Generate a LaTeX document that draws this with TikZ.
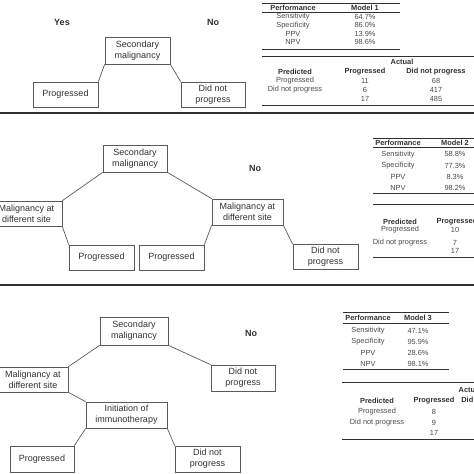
\documentclass[tikz,border=0pt]{standalone}
\usepackage{fontspec}
\setmainfont{Liberation Sans}
\usepackage{tikz}
\definecolor{inkgray}{HTML}{303030}
\definecolor{boxgray}{HTML}{5A5A5A}
\definecolor{cellgray}{HTML}{4A4A4A}

\begin{document}
\begin{tikzpicture}[x=1pt, y=-1pt,
    box/.style = {draw=boxgray, line width=0.7pt, align=center, inner sep=0pt, minimum width=65pt, minimum height=26pt, font=\fontsize{9}{11}\selectfont, text=inkgray},
    cell/.style = {inner sep=0pt, font=\fontsize{7.4}{9}\selectfont, text=cellgray},
    hdr/.style = {inner sep=0pt, font=\fontsize{7.4}{9}\selectfont\bfseries, text=inkgray},
    yn/.style = {inner sep=0pt, font=\fontsize{9}{11}\selectfont\bfseries, text=inkgray},
    link/.style = {draw=boxgray, line width=0.7pt},
    tabrule/.style = {draw=inkgray, line width=0.9pt},
    divider/.style = {draw=inkgray, line width=2.6pt}]
    \useasboundingbox (0,0) rectangle (474,474);
    \clip (0,0) rectangle (474,474);

    % model 1
    \node[yn] (yes1) at (62,22) {Yes};
    \node[yn] (no1) at (213,22) {No};
    \node[box, minimum height=27pt] (sec1) at (137.5,50.5) {Secondary\\malignancy};
    \node[box, minimum height=25pt] (prog1) at (65.5,94.5) {Progressed};
    \node[box, minimum width=64pt, minimum height=25pt] (dnp1) at (213,94.5) {Did not\\progress};
    \path[link] (sec1.south west) -- (prog1.north east);
    \path[link] (sec1.south east) -- (dnp1.north west);

    \draw[tabrule] (262,3) -- (400,3);
    \node[hdr] (perf1) at (293,8) {Performance};
    \node[hdr] (model1) at (365,8) {Model 1};
    \draw[tabrule, line width=0.6pt] (262,12.5) -- (400,12.5);
    \foreach \lab/\val [count=\i] in {Sensitivity/64.7\%, Specificity/86.0\%, PPV/13.9\%, NPV/98.6\%} {
        \node[cell] (lab1\i) at (293,8.67+8.33*\i) {\lab};
        \node[cell] (val1\i) at (365,8.67+8.33*\i) {\val};
    }
    \draw[tabrule] (262,49) -- (400,49);

    \draw[tabrule] (262,56) -- (474,56);
    \node[hdr] (act1) at (402,62) {Actual};
    \node[hdr] (pred1) at (295,72) {Predicted};
    \node[hdr] (colp1) at (365,72) {Progressed};
    \node[hdr] (coln1) at (436,72) {Did not progress};
    \foreach \lab/\p/\n [count=\i] in {Progressed/11/68, Did not progress/6/417} {
        \node[cell] (row1\i) at (295,72+9*\i) {\lab};
        \node[cell] (p1\i) at (365,72+9*\i) {\p};
        \node[cell] (n1\i) at (436,72+9*\i) {\n};
    }
    \node[cell] (sump1) at (365,99) {17};
    \node[cell] (sumn1) at (436,99) {485};
    \draw[tabrule] (262,105) -- (474,105);

    \draw[divider] (0,113) -- (474,113);

    % model 2
    \node[yn] (no2) at (255,168) {No};
    \node[box, minimum width=64pt, minimum height=27pt] (sec2) at (135,158.5) {Secondary\\malignancy};
    \node[box, minimum width=71pt, minimum height=25pt] (mal2a) at (26.5,213.5) {Malignancy at\\different site};
    \node[box, minimum width=71pt] (mal2b) at (247.5,212) {Malignancy at\\different site};
    \node[box, minimum height=25pt] (prog2a) at (101.5,257.5) {Progressed};
    \node[box, minimum height=25pt] (prog2b) at (171.5,257.5) {Progressed};
    \node[box, minimum height=25pt] (dnp2) at (325.5,257) {Did not\\progress};
    \path[link] (sec2.south west) -- (mal2a.north east);
    \path[link] (sec2.south east) -- (mal2b.north west);
    \path[link] (mal2a.south east) -- (prog2a.north west);
    \path[link] (mal2b.south west) -- (prog2b.north east);
    \path[link] (mal2b.south east) -- (dnp2.north west);

    \draw[tabrule] (373,138) -- (474,138);
    \node[hdr] (perf2) at (398,143) {Performance};
    \node[hdr] (model2) at (455,143) {Model 2};
    \draw[tabrule, line width=0.6pt] (373,147.5) -- (474,147.5);
    \foreach \lab/\val [count=\i] in {Sensitivity/58.8\%, Specificity/77.3\%, PPV/8.3\%, NPV/98.2\%} {
        \node[cell] (lab2\i) at (398,143+11.3*\i) {\lab};
        \node[cell] (val2\i) at (455,143+11.3*\i) {\val};
    }
    \draw[tabrule] (373,193) -- (474,193);

    \draw[tabrule] (373,204) -- (474,204);
    \node[hdr] (pred2) at (400,222) {Predicted};
    \node[hdr] (colp2) at (457,222) {Progressed};
    \node[cell] (row21) at (400,230) {Progressed};
    \node[cell] (p21) at (455,230) {10};
    \node[cell] (row22) at (400,243) {Did not progress};
    \node[cell] (p22) at (455,243) {7};
    \node[cell] (sump2) at (455,250.5) {17};
    \draw[tabrule] (373,257) -- (474,257);

    \draw[divider] (0,285) -- (474,285);

    % model 3
    \node[yn] (no3) at (251,333) {No};
    \node[box, minimum width=68pt, minimum height=28pt] (sec3) at (134,331) {Secondary\\malignancy};
    \node[box, minimum width=70pt, minimum height=25pt] (mal3) at (33,379.5) {Malignancy at\\different site};
    \node[box, minimum width=64pt] (dnp3a) at (243,378) {Did not\\progress};
    \node[box, minimum width=81pt] (init3) at (126.5,415) {Initiation of\\immunotherapy};
    \node[box, minimum width=64pt] (prog3) at (42,459) {Progressed};
    \node[box] (dnp3b) at (207.5,459) {Did not\\progress};
    \path[link] (sec3.south west) -- (mal3.north east);
    \path[link] (sec3.south east) -- (dnp3a.north west);
    \path[link] (mal3.south east) -- (init3.north west);
    \path[link] (init3.south west) -- (prog3.north east);
    \path[link] (init3.south east) -- (dnp3b.north west);

    \draw[tabrule] (343,312) -- (449,312);
    \node[hdr] (perf3) at (368,318) {Performance};
    \node[hdr] (model3) at (418,318) {Model 3};
    \draw[tabrule, line width=0.6pt] (343,323) -- (449,323);
    \foreach \lab/\val [count=\i] in {Sensitivity/47.1\%, Specificity/95.9\%, PPV/28.6\%, NPV/98.1\%} {
        \node[cell] (lab3\i) at (368,320+11*\i) {\lab};
        \node[cell] (val3\i) at (418,320+11*\i) {\val};
    }
    \draw[tabrule] (343,369) -- (449,369);

    \draw[tabrule] (342,382) -- (474,382);
    \node[hdr] (act3) at (470,390) {Actual};
    \node[hdr] (pred3) at (377,401) {Predicted};
    \node[hdr] (colp3) at (434,401) {Progressed};
    \node[hdr] (coln3) at (491,401) {Did not progress};
    \foreach \lab/\p [count=\i] in {Progressed/8, Did not progress/9} {
        \node[cell] (row3\i) at (377,401+11*\i) {\lab};
        \node[cell] (p3\i) at (434,401+11*\i) {\p};
    }
    \node[cell] (sump3) at (434,433) {17};
    \draw[tabrule] (342,439) -- (474,439);
\end{tikzpicture}
\end{document}
